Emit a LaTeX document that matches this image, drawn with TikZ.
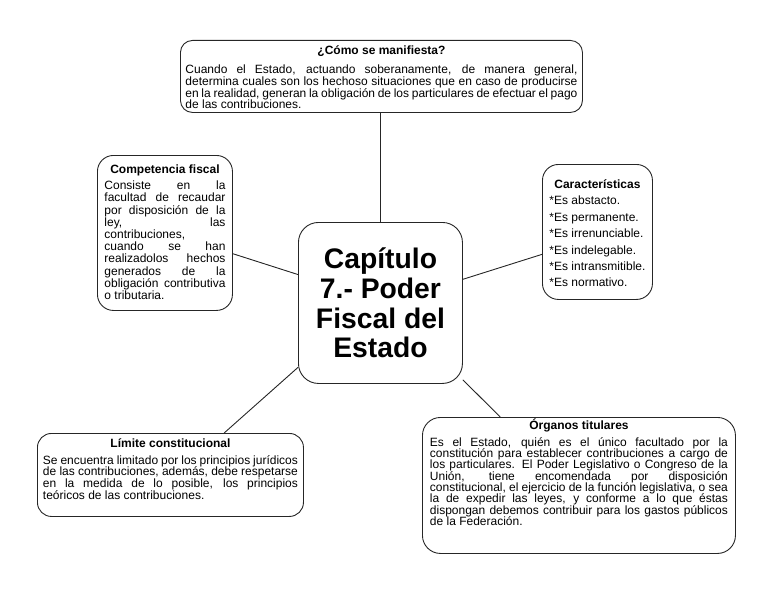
\documentclass[tikz,border=0pt]{standalone}
\usepackage{fontspec}
\setmainfont{Liberation Sans}
\newcommand{\jline}[1]{\hbox to\linewidth{#1}}
\newcommand{\lline}[1]{\hbox{#1}}
\newcommand{\ctitle}[1]{\hbox to\linewidth{\hfil\rule{0pt}{9pt}\smash{\bfseries #1}\hfil}}
\begin{document}
\begin{tikzpicture}[x=1pt,y=-1pt,
  bx/.style={draw=black!85, line width=0.9pt, rounded corners=12pt, inner sep=0pt, anchor=north west},
  conn/.style={draw=black!85, line width=0.9pt},
  body/.style={font=\fontsize{12}{11.7}\selectfont}]
\useasboundingbox (0,0) rectangle (768,594);

% central
\node[bx, rounded corners=20pt, minimum width=164pt, minimum height=161pt, align=center,
  font=\fontsize{28.3}{29.7}\selectfont\bfseries] (cen) at (298,222) {Capítulo\\7.- Poder\\Fiscal del\\Estado};

% top
\node[bx, body, minimum width=402pt, minimum height=72pt] (top) at (180,40) {%
\begin{minipage}[c][62pt][t]{392pt}\lineskiplimit=-30pt
\ctitle{¿Cómo se manifiesta?}\vspace{7.5pt}
\jline{Cuando el Estado, actuando soberanamente, de manera general,}
\jline{determina cuales son los hechoso situaciones que en caso de producirse}
\jline{en la realidad, generan la obligación de los particulares de efectuar el pago}
\lline{de las contribuciones.}
\end{minipage}};

% competencia
\node[bx, font=\fontsize{12}{12.2}\selectfont, rounded corners=16pt, minimum width=135pt, minimum height=155pt] (comp) at (97,155) {%
\begin{minipage}[c][137pt][t]{121pt}\lineskiplimit=-30pt
\ctitle{Competencia fiscal}\vspace{4pt}
\jline{Consiste en la}
\jline{facultad de recaudar}
\jline{por disposición de la}
\jline{ley, las}
\lline{contribuciones,}
\jline{cuando se han}
\jline{realizadolos hechos}
\jline{generados de la}
\jline{obligación contributiva}
\lline{o tributaria.}
\end{minipage}};

% caracteristicas
\node[bx, font=\fontsize{12}{16.4}\selectfont, rounded corners=16pt, minimum width=110pt, minimum height=135pt] (car) at (542,164) {%
\begin{minipage}[c][105pt][t]{96pt}\lineskiplimit=-30pt
\ctitle{Características}
\lline{*Es abstacto.}
\lline{*Es permanente.}
\lline{*Es irrenunciable.}
\lline{*Es indelegable.}
\lline{*Es intransmitible.}
\lline{*Es normativo.}
\end{minipage}};

% limite
\node[bx, body, rounded corners=14pt, minimum width=266pt, minimum height=83pt] (lim) at (37,433) {%
\begin{minipage}[c][73pt][t]{255pt}\lineskiplimit=-30pt
\ctitle{Límite constitucional}\vspace{5pt}
\jline{Se encuentra limitado por los principios jurídicos}
\jline{de las contribuciones, además, debe respetarse}
\jline{en la medida de lo posible, los principios}
\lline{teóricos de las contribuciones.}
\end{minipage}};

% organos
\node[bx, font=\fontsize{12}{11.3}\selectfont, rounded corners=18pt, minimum width=313pt, minimum height=136pt] (org) at (422,417) {%
\begin{minipage}[c][130pt][t]{298pt}\lineskiplimit=-30pt
\ctitle{Órganos titulares}\vspace{5.5pt}
\jline{Es el Estado, quién es el único facultado por la}
\jline{constitución para establecer contribuciones a cargo de}
\jline{los particulares. El Poder Legislativo o Congreso de la}
\jline{Unión, tiene encomendada por disposición}
\jline{constitucional, el ejercicio de la función legislativa, o sea}
\jline{la de expedir las leyes, y conforme a lo que éstas}
\jline{dispongan debemos contribuir para los gastos públicos}
\lline{de la Federación.}
\end{minipage}};

% connectors
\draw[conn] (cen.north) -- (cen.north |- top.south);
\draw[conn] (cen.161.5) -- (comp.343.1);
\draw[conn] (cen.16.6) -- (car.202.2);
\draw[conn] (cen.218.6) -- (lim.38.6);
\draw[conn] (cen.317.4) -- (org.139.1);
\end{tikzpicture}
\end{document}
